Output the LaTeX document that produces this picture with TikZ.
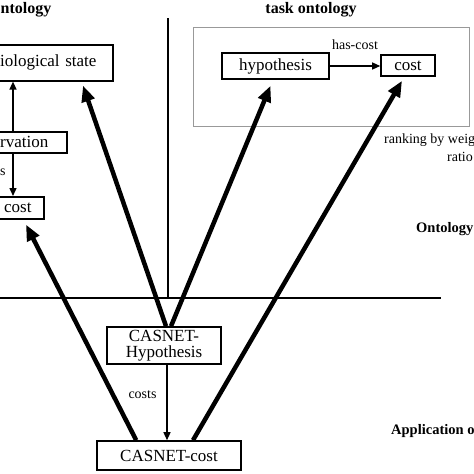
\documentclass[tikz,border=0pt]{standalone}
\usepackage{fontspec}
\setmainfont{Liberation Serif}
\usetikzlibrary{arrows.meta}

\tikzset{
  box/.style={draw, line width=1.6pt, inner sep=0pt, font=\fontsize{17}{16}\selectfont},
  slim/.style={line width=1.4pt, -{Triangle[length=8pt,width=7pt]}},
  heavy/.style={line width=4.5pt, -{Triangle[length=16pt,width=13pt]}},
  lbl/.style={inner sep=0pt, font=\fontsize{14}{14}\selectfont},
  head/.style={inner sep=0pt, font=\fontsize{16}{16}\selectfont\bfseries},
  side/.style={inner sep=0pt, font=\fontsize{14.5}{14.5}\selectfont\bfseries}
}

\begin{document}
\begin{tikzpicture}[x=1pt, y=-1pt]
        \useasboundingbox (0,0) rectangle (474,474);
        \clip (0,0) rectangle (474,474);

        % titles
        \node[head, anchor=base west] (domtitle) at (0.5,13) {ntology};
        \node[head, anchor=base] (tasktitle) at (311,13) {task ontology};
        \node[side, anchor=base west] (ontlevel) at (416,232) {Ontology};
        \node[side, anchor=base west] (applevel) at (391,434) {Application o};

        % level separators
        \draw[line width=1.4pt] (168,18) -- (168,298);
        \draw[line width=1.4pt] (0,298) -- (441,298);

        % domain ontology
        \node[box, anchor=north east, minimum height=36pt, text width=100pt, inner xsep=13pt, align=left] (phys) at (114,44) {iological state};
        \node[box, anchor=north east, minimum height=21pt, text width=56pt, inner xsep=11pt, align=left] (obs) at (68,131) {rvation};
        \node[box, anchor=north east, minimum height=22pt, text width=30pt, inner xsep=10pt, align=left] (lcost) at (45,196) {cost};
        \coordinate (lx) at (13,0);
        \draw[slim] (obs.north -| lx) -- (phys.south -| lx);
        \draw[slim] (obs.south -| lx) -- (lcost.north -| lx);
        \node[lbl, anchor=base west] (lcostlbl) at (0,175) {s};

        % task ontology
        \node[draw=black!40, line width=1.4pt, inner sep=0pt, minimum width=276pt, minimum height=99pt, anchor=north west] (task) at (193,27) {};
        \node[box, minimum width=107pt, minimum height=26pt] (hyp) at (275.5,66) {hypothesis};
        \node[box, minimum width=54pt, minimum height=21pt] (tcost) at (408,65.5) {cost};
        \draw[slim] (hyp.east) -- (hyp.east -| tcost.west) node[lbl, midway, above=16pt] {has-cost};
        \node[lbl, anchor=base west] (rank) at (384,143) {ranking by weig};
        \node[lbl, anchor=base west] (ratio) at (447,161) {ratio};

        % application ontology
        \node[box, minimum width=114pt, minimum height=37pt, align=center] (ch) at (164,345.5) {CASNET-\\Hypothesis};
        \node[box, minimum width=144pt, minimum height=29pt] (cc) at (169,455.5) {CASNET-cost};
        \draw[slim] ([xshift=3pt]ch.south) -- ([xshift=-2pt]cc.north);
        \node[lbl, anchor=base] (costslbl) at (142.5,398) {costs};

        % mappings
        \draw[heavy] ([xshift=2pt]ch.north) -- ([xshift=-31pt,yshift=-4pt]phys.south east);
        \draw[heavy] ([xshift=7pt]ch.north) -- ([xshift=-5pt,yshift=-6pt]hyp.south);
        \draw[heavy] ([xshift=40pt]cc.north west) -- ([xshift=-19pt,yshift=-5pt]lcost.south east);
        \draw[heavy] ([xshift=24pt]cc.north) -- ([xshift=-6pt,yshift=-4pt]tcost.south);
\end{tikzpicture}
\end{document}
